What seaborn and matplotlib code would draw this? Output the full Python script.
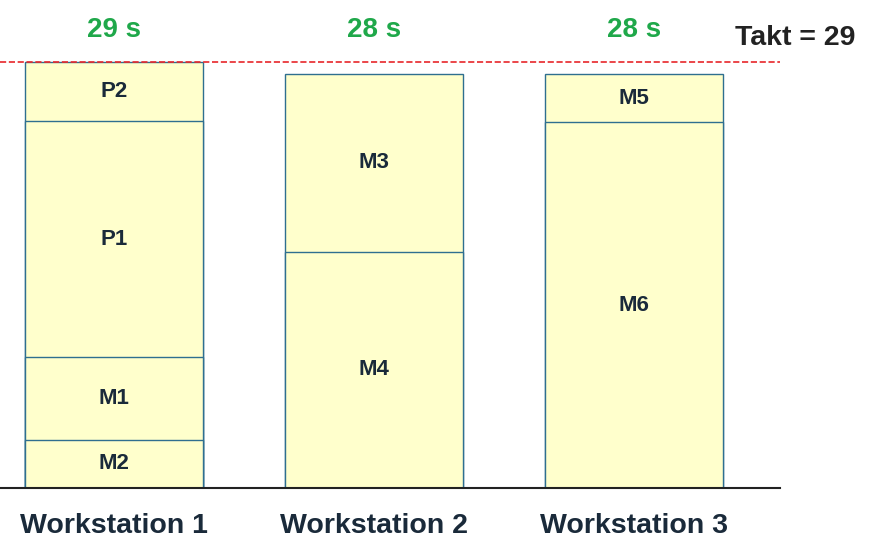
import matplotlib
matplotlib.use("Agg")
import matplotlib.pyplot as plt
import pandas as pd
import seaborn as sns

stations = ["Workstation 1", "Workstation 2", "Workstation 3"]
# segments per station, bottom to top
seg_names = [["M2", "M1", "P1", "P2"], ["M4", "M3"], ["M6", "M5"]]
seg_times = [[3.3, 5.6, 16.1, 4.0], [16.1, 12.1], [24.9, 3.3]]
totals_text = ["29 s", "28 s", "28 s"]
takt = 29

rows = []
for st, names, times in zip(stations, seg_names, seg_times):
    bottom = 0
    for n, t in zip(names, times):
        rows.append({"station": st, "seg": n, "bottom": bottom, "top": bottom + t})
        bottom += t
df = pd.DataFrame(rows)

sns.set_theme(style="white")
plt.rcParams["font.family"] = ["Liberation Sans", "DejaVu Sans"]

fig = plt.figure(figsize=(8.75, 5.48), dpi=100)
ax = fig.add_axes([0.0, 0.1095, 0.891, 0.854])

# draw cumulative tops, highest first so lower segments overlay
for _, r in df.sort_values("top", ascending=False).iterrows():
    sns.barplot(x=[r["station"]], y=[r["top"]], order=stations, ax=ax,
                color="#ffffcc", saturation=1, width=0.685,
                edgecolor="#2f6f8f", linewidth=1)

for _, r in df.iterrows():
    ax.text(stations.index(r["station"]), (r["bottom"] + r["top"]) / 2, r["seg"],
            ha="center", va="center", fontsize=16, fontweight="bold", color="#1a2a3a")

for i, (st, t) in enumerate(zip(stations, totals_text)):
    ax.text(i, 31.2, t, ha="center", va="center", fontsize=20, fontweight="bold",
            color="#1fa84a", clip_on=False)

ax.axhline(takt, color="#e8262a", linestyle="--", linewidth=1.2)
fig.text(795 / 875, 1 - 38 / 548, f"Takt = {takt}", ha="center", va="center",
         fontsize=20.5, fontweight="bold", color="#222222")

ax.set_xlim(-0.438, 2.56)
ax.set_ylim(0, 31.86)
ax.set_xlabel("")
ax.set_ylabel("")
ax.set_yticks([])
ax.tick_params(axis="x", length=0, pad=18, labelsize=20.5)
for lab in ax.get_xticklabels():
    lab.set_fontweight("bold")
    lab.set_color("#1a2a3a")
for s in ["top", "left", "right"]:
    ax.spines[s].set_visible(False)
ax.spines["bottom"].set_color("#222222")
ax.spines["bottom"].set_linewidth(1.5)

fig.savefig("out.png", dpi=100)
